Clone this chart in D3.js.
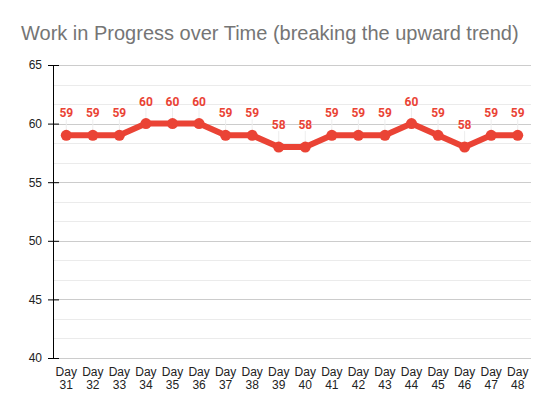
<!DOCTYPE html>
<html>
<head>
<meta charset="utf-8">
<script src="https://cdn.jsdelivr.net/npm/d3@7"></script>
<style>
  body { margin: 0; background: #fff; }
  svg { display: block; }
</style>
</head>
<body>
<div id="chart"></div>
<script>
const FRAME_WIDTH = 552;
const FRAME_HEIGHT = 413;
const MARGINS = { left: 53, right: 21, top: 65, bottom: 55 };

// data
const days = ["Day 31", "Day 32", "Day 33", "Day 34", "Day 35", "Day 36", "Day 37", "Day 38", "Day 39",
              "Day 40", "Day 41", "Day 42", "Day 43", "Day 44", "Day 45", "Day 46", "Day 47", "Day 48"];
const wip = [59, 59, 59, 60, 60, 60, 59, 59, 58, 58, 59, 59, 59, 60, 59, 58, 59, 59];
const yTicks = [40, 45, 50, 55, 60, 65];

const RED = "#ea4335";

let plot_width = FRAME_WIDTH - MARGINS.left - MARGINS.right;
let plot_height = FRAME_HEIGHT - MARGINS.top - MARGINS.bottom;

let svg = d3.select("#chart")
  .append("svg")
  .attr("width", FRAME_WIDTH)
  .attr("height", FRAME_HEIGHT);

let x = d3.scaleBand()
  .domain(days)
  .range([0, plot_width]);

let y = d3.scaleLinear()
  .domain([40, 65])
  .range([plot_height, 0]);

// title
svg.append("text")
  .attr("x", 21)
  .attr("y", 40)
  .style("font-family", "'Liberation Sans', Arial, sans-serif")
  .style("font-size", "20px")
  .style("fill", "#757575")
  .text("Work in Progress over Time (breaking the upward trend)");

let g = svg.append("g")
  .attr("transform", "translate(" + MARGINS.left + "," + MARGINS.top + ")");

// minor gridlines (3 per major step)
let minor = [];
for (let i = 0; i < yTicks.length - 1; i++) {
  let step = (yTicks[i + 1] - yTicks[i]) / 3;
  minor.push(yTicks[i] + step, yTicks[i] + 2 * step);
}
g.selectAll(".minor")
  .data(minor)
  .enter()
  .append("line")
  .attr("class", "minor")
  .attr("x1", 0)
  .attr("x2", plot_width)
  .attr("y1", d => Math.round(y(d)) + 0.5)
  .attr("y2", d => Math.round(y(d)) + 0.5)
  .attr("stroke", "#ebebeb")
  .attr("stroke-width", 1);

g.selectAll(".major")
  .data(yTicks)
  .enter()
  .append("line")
  .attr("class", "major")
  .attr("x1", 0)
  .attr("x2", plot_width)
  .attr("y1", d => Math.round(y(d)) + 0.5)
  .attr("y2", d => Math.round(y(d)) + 0.5)
  .attr("stroke", "#cccccc")
  .attr("stroke-width", 1);

// y axis
let yAxis = g.append("g")
  .call(d3.axisLeft(y).tickValues(yTicks).tickSize(5).tickPadding(6).tickFormat(d3.format("d")));
yAxis.select(".domain").attr("stroke", "#000").attr("d", "M0.5," + y(65) + "V" + y(40));
yAxis.selectAll(".tick line").attr("x2", -5).attr("x1", 6).attr("stroke", "#000");
yAxis.selectAll(".tick text")
  .style("font-family", "'Liberation Sans', Arial, sans-serif")
  .style("font-size", "12px")
  .attr("fill", "#222");

// x labels, two lines
let xLab = g.selectAll(".xlab")
  .data(days)
  .enter()
  .append("text")
  .attr("class", "xlab")
  .attr("text-anchor", "middle")
  .attr("x", d => x(d) + x.bandwidth() / 2)
  .attr("y", plot_height + 18)
  .style("font-family", "'Liberation Sans', Arial, sans-serif")
  .style("font-size", "12px")
  .style("fill", "#222");
xLab.append("tspan")
  .attr("x", d => x(d) + x.bandwidth() / 2)
  .text(d => d.split(" ")[0]);
xLab.append("tspan")
  .attr("x", d => x(d) + x.bandwidth() / 2)
  .attr("dy", 13)
  .text(d => d.split(" ")[1]);

let pts = days.map((d, i) => ({ day: d, v: wip[i] }));
let cx = d => x(d.day) + x.bandwidth() / 2;

// faint leader lines under labels
g.selectAll(".leader")
  .data(pts)
  .enter()
  .append("line")
  .attr("x1", cx)
  .attr("x2", cx)
  .attr("y1", d => y(d.v) - 16)
  .attr("y2", d => y(d.v) - 4)
  .attr("stroke", "#eeeeee")
  .attr("stroke-width", 1);

// line
g.append("path")
  .datum(pts)
  .attr("fill", "none")
  .attr("stroke", RED)
  .attr("stroke-width", 6)
  .attr("stroke-linejoin", "round")
  .attr("d", d3.line().x(cx).y(d => y(d.v)));

g.selectAll(".dot")
  .data(pts)
  .enter()
  .append("circle")
  .attr("cx", cx)
  .attr("cy", d => y(d.v))
  .attr("r", 5.5)
  .attr("fill", RED);

// data labels
g.selectAll(".val")
  .data(pts)
  .enter()
  .append("text")
  .attr("text-anchor", "middle")
  .attr("x", cx)
  .attr("y", d => y(d.v) - 18)
  .style("font-family", "Roboto, 'Liberation Sans', sans-serif")
  .style("font-size", "12px")
  .style("font-weight", "bold")
  .style("fill", RED)
  .text(d => d.v);
</script>
</body>
</html>
